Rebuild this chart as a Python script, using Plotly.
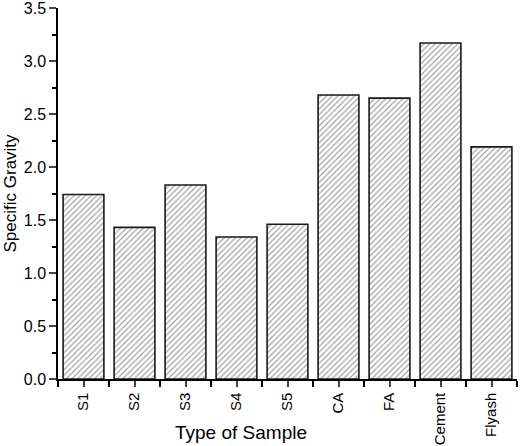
import plotly.graph_objects as go

samples = ["S1", "S2", "S3", "S4", "S5", "CA", "FA", "Cement", "Flyash"]
specific_gravity = [1.74, 1.43, 1.83, 1.34, 1.46, 2.68, 2.65, 3.17, 2.19]
y_ticks = [0.0, 0.5, 1.0, 1.5, 2.0, 2.5, 3.0, 3.5]

positions = list(range(len(samples)))

fig = go.Figure()

fig.add_trace(
    go.Bar(
        x=positions,
        y=specific_gravity,
        width=0.8,
        marker=dict(
            color="white",
            line=dict(color="#1a1a1a", width=1.6),
            pattern=dict(shape="/", fgcolor="#444444", bgcolor="white",
                         size=4, solidity=0.3),
        ),
    )
)

fig.update_layout(
    width=520,
    height=446,
    margin=dict(l=58, r=3, t=8, b=67, autoexpand=False),
    plot_bgcolor="white",
    paper_bgcolor="white",
    showlegend=False,
    font=dict(family="Liberation Sans, Arial, sans-serif", color="black"),
)

# axis titles placed as annotations to match the source positions
fig.add_annotation(text="Type of Sample", xref="paper", yref="paper",
                   x=(241 - 58) / 459, y=-53 / 371, showarrow=False,
                   font=dict(size=19), xanchor="center", yanchor="middle")
fig.add_annotation(text="Specific Gravity", xref="paper", yref="paper",
                   x=-48 / 459, y=0.5, showarrow=False, textangle=-90,
                   font=dict(size=17), xanchor="center", yanchor="middle")

fig.update_xaxes(
    range=[-0.5, len(samples) - 0.5],
    tickvals=positions,
    ticktext=samples,
    tickangle=-90,
    tickfont=dict(size=15),
    ticklabeloverflow="allow",
    showline=True,
    linecolor="black",
    linewidth=1.5,
    ticks="outside",
    ticklen=6,
    tickwidth=1.5,
    minor=dict(tick0=-0.5, dtick=1, ticks="outside", ticklen=6, tickwidth=1.5,
               tickcolor="black"),
    showgrid=False,
    zeroline=False,
    automargin=False,
)

fig.update_yaxes(
    range=[0, 3.5001],
    tickvals=y_ticks,
    tickformat=".1f",
    tickfont=dict(size=16),
    ticklabeloverflow="allow",
    showline=True,
    linecolor="black",
    linewidth=1.5,
    ticks="outside",
    ticklen=7,
    tickwidth=1.5,
    minor=dict(dtick=0.25, ticks="outside", ticklen=4, tickwidth=1.5, tickcolor="black"),
    showgrid=False,
    zeroline=False,
    automargin=False,
)

fig.write_html("out.html", config={"displayModeBar": False},
               post_script="document.body.style.margin = '0';")
